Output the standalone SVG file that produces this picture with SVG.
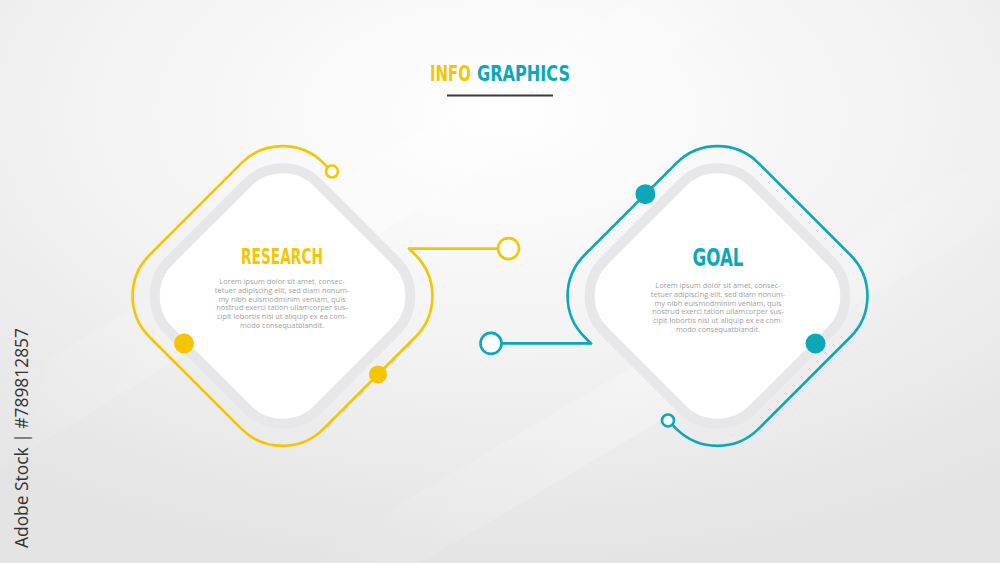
<svg xmlns="http://www.w3.org/2000/svg" width="1000" height="563" viewBox="0 0 1000 563">
  <defs>
    <radialGradient id="bg" cx="0.5" cy="0.2" r="0.8">
      <stop offset="0" stop-color="#ffffff"/>
      <stop offset="0.55" stop-color="#f2f2f2"/>
      <stop offset="1" stop-color="#e4e4e4"/>
    </radialGradient>
    <linearGradient id="streak" x1="0" y1="0" x2="1" y2="0">
      <stop offset="0" stop-color="#ffffff" stop-opacity="0"/>
      <stop offset="0.5" stop-color="#ffffff" stop-opacity="0.55"/>
      <stop offset="1" stop-color="#ffffff" stop-opacity="0"/>
    </linearGradient>
  </defs>
  <style>
    .ring { fill: #ffffff; stroke: #e7e7e9; stroke-width: 10; }
    .yl { fill: none; stroke: #f6c500; stroke-width: 2.6; stroke-linecap: round; stroke-linejoin: miter; }
    .tl { fill: none; stroke: #0aa8b9; stroke-width: 2.6; stroke-linecap: round; stroke-linejoin: miter; }
    .yo { fill: #ffffff; stroke: #f6c500; stroke-width: 2.6; }
    .to { fill: #ffffff; stroke: #0aa8b9; stroke-width: 2.6; }
    .yf { fill: #f6c500; }
    .tf { fill: #0aa8b9; }
    .head { font-family: "DejaVu Sans Condensed", "DejaVu Sans", sans-serif; font-weight: bold; }
    .mid { text-anchor: middle; }
    .body { font-family: "Open Sans", "Liberation Sans", sans-serif; font-size: 7.4px; fill: #a2a2a2; text-anchor: middle; }
  </style>
  <rect width="1000" height="563" fill="url(#bg)"/>
  <polygon points="-50,420 700,-40 820,-40 -50,500" fill="url(#streak)" opacity="0.6"/>
  <polygon points="300,563 1050,120 1050,190 420,563" fill="url(#streak)" opacity="0.5"/>

  <g id="title">
    <text x="430" y="81" class="head" font-size="21" fill="#f6c500" textLength="41" lengthAdjust="spacingAndGlyphs">INFO</text>
    <text x="477" y="81" class="head" font-size="21" fill="#0aa8b9" textLength="93" lengthAdjust="spacingAndGlyphs">GRAPHICS</text>
    <line x1="447" y1="95.5" x2="553" y2="95.5" stroke="#3a3a3a" stroke-width="2"/>
  </g>

  <g id="node-research">
    <g transform="translate(282.5,296) rotate(45)">
      <rect class="ring" x="-105" y="-105" width="210" height="210" rx="50"/>
      <path class="yl" d="M -59 -123 L -65 -123 A 58 58 0 0 0 -123 -65 L -123 65 A 58 58 0 0 0 -65 123 L 65 123 A 58 58 0 0 0 123 65 L 123 -65 A 58 58 0 0 0 65 -123 L 56 -123"/>
      <circle class="yo" cx="-53" cy="-123" r="6"/>
      <circle class="yf" cx="123" cy="-12" r="9"/>
    </g>
    <circle class="yf" cx="184" cy="343.5" r="10"/>
    <text x="282" y="264" class="head mid" font-size="21" fill="#f6c500" textLength="82" lengthAdjust="spacingAndGlyphs">RESEARCH</text>
    <text class="body" x="282" y="284.3">Lorem ipsum dolor sit amet, consec-</text>
    <text class="body" x="282" y="293">tetuer adipiscing elit, sed diam nonum-</text>
    <text class="body" x="282" y="301.7">my nibh euismodminim veniam, quis</text>
    <text class="body" x="282" y="310.4">nostrud exerci tation ullamcorper sus-</text>
    <text class="body" x="282" y="319.1">cipit lobortis nisl ut aliquip ex ea com-</text>
    <text class="body" x="282" y="327.8">modo consequatblandit.</text>
  </g>

  <g id="node-goal">
    <g transform="translate(717.5,296) rotate(225)">
      <rect class="ring" x="-105" y="-105" width="210" height="210" rx="50"/>
      <path class="tl" d="M -59 -123 L -65 -123 A 58 58 0 0 0 -123 -65 L -123 65 A 58 58 0 0 0 -65 123 L 65 123 A 58 58 0 0 0 123 65 L 123 -65 A 58 58 0 0 0 65 -123 L 56 -123"/>
      <circle class="to" cx="-53" cy="-123" r="6"/>
      <circle class="tf" cx="123" cy="21" r="10"/>
    </g>
    <circle class="tf" cx="815.5" cy="343.5" r="10"/>
    <text x="718" y="265.5" class="head mid" font-size="25" fill="#0aa8b9" textLength="51" lengthAdjust="spacingAndGlyphs">GOAL</text>
    <text class="body" x="718" y="288.3">Lorem ipsum dolor sit amet, consec-</text>
    <text class="body" x="718" y="297">tetuer adipiscing elit, sed diam nonum-</text>
    <text class="body" x="718" y="305.7">my nibh euismodminim veniam, quis</text>
    <text class="body" x="718" y="314.4">nostrud exerci tation ullamcorper sus-</text>
    <text class="body" x="718" y="323.1">cipit lobortis nisl ut aliquip ex ea com-</text>
    <text class="body" x="718" y="331.8">modo consequatblandit.</text>
  </g>

  <g id="connectors">
    <line class="yl" x1="409" y1="248.6" x2="497.5" y2="248.6"/>
    <circle class="yo" cx="508.5" cy="248.6" r="10.5"/>
    <line class="tl" x1="591" y1="343.4" x2="502" y2="343.4"/>
    <circle class="to" cx="491" cy="343.4" r="10.5"/>
  </g>

  <text x="28" y="548" transform="rotate(-90 28 548)" font-family="Open Sans, Liberation Sans, sans-serif" font-size="18" fill="#333333" textLength="220" lengthAdjust="spacingAndGlyphs">Adobe Stock | #789812857</text>
</svg>
